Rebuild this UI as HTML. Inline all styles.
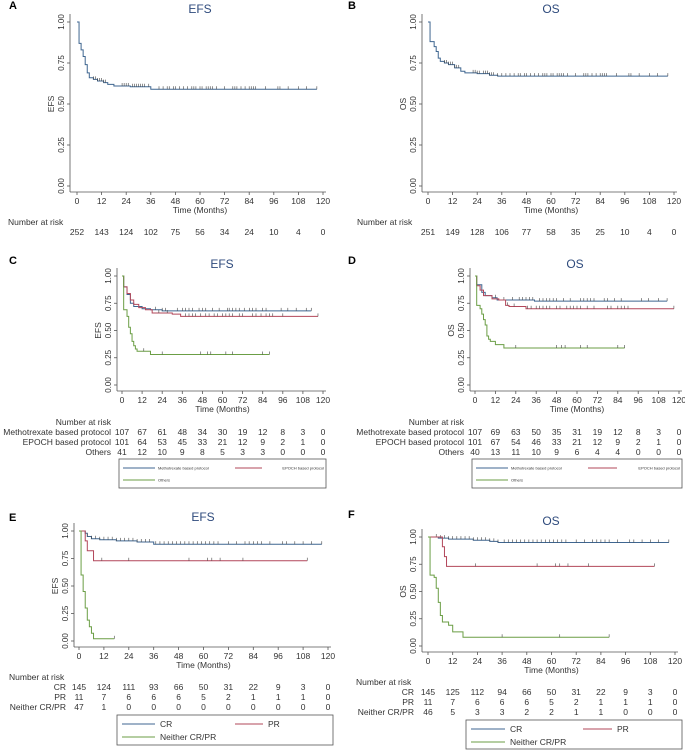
<!DOCTYPE html>
<html><head><meta charset="utf-8"><style>
body{margin:0;background:#fff}
svg{display:block;font-family:"Liberation Sans",Arial,sans-serif}
</style></head><body>
<svg id="fig" width="685" height="751" viewBox="0 0 685 751" xmlns="http://www.w3.org/2000/svg"></svg>
<script>
// ---- data ----
const ticks=[0,12,24,36,48,60,72,84,96,108,120];
const yTicks=[0,0.25,0.5,0.75,1];
const yTickLabels=["0.00","0.25","0.50","0.75","1.00"];
// Panel A EFS
const aT=[0,1,2,3,4,5,6,8,10,13,15,18,26,36];
const aS=[1,0.87,0.83,0.79,0.74,0.69,0.66,0.65,0.64,0.63,0.62,0.61,0.605,0.59];
const aEnd=117;
const aCens=[8,9,10,11,12,13,14,22,23,24,25,27,28,29,30,31,32,33,35,40,42,44,45,47,48,50,52,54,56,57,58,60,61,63,64,65,66,68,72,76,77,78,80,82,84,85,86,87,92,98,99,103,108,112,117];
const aRisk=[252,143,124,102,75,56,34,24,10,4,0];
// Panel B OS
const bT=[0,1,3,4,5,6,8,10,13,16,18,24,30,34];
const bS=[1,0.88,0.85,0.82,0.78,0.76,0.75,0.74,0.72,0.70,0.69,0.685,0.675,0.67];
const bEnd=117;
const bCens=[8,9,10,11,12,13,14,15,22,23,24,25,27,28,29,30,31,32,34,36,38,40,42,44,45,47,48,50,52,54,56,57,58,60,61,63,64,65,66,68,72,76,77,78,80,82,84,85,86,87,92,98,99,103,108,112,117];
const bRisk=[251,149,128,106,77,58,35,25,10,4,0];
// Panel C EFS by protocol
const cMT=[0,1,3,5,7,12,17,24];const cMS=[1,0.9,0.83,0.75,0.72,0.70,0.69,0.68];const cMEnd=113;
const cMCens=[20,24,26,33,36,38,40,42,46,48,50,54,58,63,64,66,68,70,73,76,78,80,84,86,95,99,104,110,113];
const cET=[0,1,3,5,7,10,14,18,30,35];const cES=[1,0.9,0.84,0.78,0.74,0.71,0.69,0.66,0.65,0.63];const cEEnd=117;
const cECens=[22,27,38,40,42,44,47,50,52,55,57,60,62,64,66,70,72,78,80,83,86,88,90,96,117];
const cOT=[0,1,3,4,5,6,7,8,9,17];const cOS=[1,0.69,0.63,0.53,0.47,0.40,0.36,0.33,0.31,0.28];const cOEnd=88;
const cOCens=[13,24,47,51,53,62,66,84,88];
const cRiskM=[107,67,61,48,34,30,19,12,8,3,0];
const cRiskE=[101,64,53,45,33,21,12,9,2,1,0];
const cRiskO=[41,12,10,9,8,5,3,3,0,0,0];
// Panel D OS by protocol
const dMT=[0,1,4,6,10,13,35];const dMS=[1,0.92,0.85,0.82,0.80,0.78,0.77];const dMEnd=113;
const dMCens=[12,17,22,26,28,30,32,34,38,40,42,44,46,48,52,56,62,64,66,68,70,76,78,82,86,98,102,108,113];
const dET=[0,1,3,5,10,14,18,20,30];const dES=[1,0.91,0.87,0.82,0.79,0.78,0.73,0.72,0.70];const dEEnd=117;
const dECens=[19,23,31,33,36,38,40,42,44,48,50,54,56,58,60,62,66,70,78,80,84,86,88,90,117];
const dOT=[0,1,3,4,5,6,7,8,9,12,17];const dOS=[1,0.73,0.70,0.65,0.60,0.55,0.45,0.42,0.40,0.37,0.34];const dOEnd=88;
const dOCens=[24,48,51,53,62,66,84,88];
const dRiskM=[107,69,63,50,35,31,19,12,8,3,0];
const dRiskE=[101,67,54,46,33,21,12,9,2,1,0];
const dRiskO=[40,13,11,10,9,6,4,4,0,0,0];
// Panel E EFS by response
const eCT=[0,3,4,6,10,18,28,36];const eCS=[1,0.98,0.95,0.93,0.92,0.91,0.90,0.88];const eCEnd=117;
const eCCens=[4,6,8,10,12,14,16,18,20,22,24,26,28,30,32,34,37,39,41,43,45,47,49,51,53,55,57,59,61,63,65,67,72,76,80,82,84,86,88,92,98,100,104,108,112,117];
const ePT=[0,3,4,7];const ePS=[1,0.91,0.82,0.73];const ePEnd=110;
const ePCens=[11,24,53,62,64,68,79,110];
const eNT=[0,1,2,3,4,5,6,7];const eNS=[1,0.6,0.45,0.30,0.19,0.13,0.07,0.02];const eNEnd=17;
const eNCens=[17];
const eRiskC=[145,124,111,93,66,50,31,22,9,3,0];
const eRiskP=[11,7,6,6,6,5,2,1,1,1,0];
const eRiskN=[47,1,0,0,0,0,0,0,0,0,0];
// Panel F OS by response
const fCT=[0,5,10,22,30,34];const fCS=[1,0.99,0.98,0.97,0.96,0.95];const fCEnd=117;
const fCCens=[4,6,8,10,12,14,16,18,20,22,24,26,28,30,32,34,37,39,41,43,45,47,49,51,53,55,57,59,61,63,65,67,72,76,80,82,84,86,88,92,98,100,104,108,112,117];
const fPT=[0,7,8,9];const fPS=[1,0.91,0.82,0.73];const fPEnd=110;
const fPCens=[23,53,62,64,68,78,110];
const fNT=[0,1,3,4,5,6,7,10,12,17];const fNS=[1,0.65,0.63,0.53,0.40,0.28,0.22,0.19,0.13,0.08];const fNEnd=88;
const fNCens=[36,64,88];
const fRiskC=[145,125,112,94,66,50,31,22,9,3,0];
const fRiskP=[11,7,6,6,6,5,2,1,1,1,0];
const fRiskN=[46,5,3,3,2,2,1,1,0,0,0];

const BLUE="#3f6690",RED="#b2475a",GREEN="#6b9e45",TITLE="#2e4a7c";
const svg=document.getElementById('fig');
const NS="http://www.w3.org/2000/svg";
function mk(tag,attrs,parent,text){const e=document.createElementNS(NS,tag);for(const k in attrs)e.setAttribute(k,attrs[k]);if(text!==undefined)e.textContent=text;(parent||svg).appendChild(e);return e;}

function panel(p){
  const g=mk('g',{});
  
  
  const X=t=>p.x0+(p.x1-p.x0)*t/120;
  const Y=s=>p.y0-(p.y0-p.y1)*s;
  const lt=mk('text',{x:p.lx,y:p.ly,'font-size':11,'font-weight':'bold',fill:'#000'},g,p.id);
  
  const tt=mk('text',{x:p.tx,y:p.ty,'font-size':12,fill:TITLE,'text-anchor':'middle'},g,p.title);
  
  // axes
  const ya=mk('line',{x1:p.ax,y1:p.y1-8,x2:p.ax,y2:p.axY,stroke:'#555','stroke-width':0.8},g);
  
  const xa=mk('line',{x1:p.ax,y1:p.axY,x2:X(120)+3,y2:p.axY,stroke:'#555','stroke-width':0.8},g);
  
  yTicks.forEach((v,i)=>{
    mk('line',{x1:p.ax-3,y1:Y(v),x2:p.ax,y2:Y(v),stroke:'#555','stroke-width':0.8},g);
    const t=mk('text',{transform:`translate(${p.ax-6},${Y(v)}) rotate(-90)`,'font-size':8,'text-anchor':'middle',fill:'#333'},g,yTickLabels[i]);
    
  });
  ticks.forEach(v=>{
    mk('line',{x1:X(v),y1:p.axY,x2:X(v),y2:p.axY+3,stroke:'#555','stroke-width':0.8},g);
    const t=mk('text',{x:X(v),y:p.axY+12,'font-size':8.5,'text-anchor':'middle',fill:'#333'},g,String(v));
    
  });
  const yl=mk('text',{transform:`translate(${p.ax-16},${(p.y0+p.y1)/2}) rotate(-90)`,'font-size':8.5,'text-anchor':'middle',fill:'#333'},g,p.title);
  
  const xl=mk('text',{x:X(60),y:p.axY+21,'font-size':8.5,'text-anchor':'middle',fill:'#333'},g,'Time (Months)');
  
  // series
  p.series.forEach(s=>{
    let d=`M${X(s.t[0])},${Y(s.s[0])}`;
    for(let i=1;i<s.t.length;i++)d+=`H${X(s.t[i])}V${Y(s.s[i])}`;
    d+=`H${X(s.end)}`;
    const path=mk('path',{d:d,fill:'none',stroke:s.color,'stroke-width':1},g);
    
    s.cens.forEach(c=>{
      let sv=s.s[0];for(let i=0;i<s.t.length;i++)if(s.t[i]<=c)sv=s.s[i];
      const m=mk('line',{x1:X(c),y1:Y(sv)-3,x2:X(c),y2:Y(sv),stroke:'#444','stroke-width':0.6},g);
      
    });
  });
  // risk table
  const nr=mk('text',{x:p.nrx,y:p.nry,'font-size':8.5,'text-anchor':p.nrAnchor||'end',fill:'#333'},g,'Number at risk');
  
  p.risk.forEach((r,ri)=>{
    const yy=p.nry+10*(ri+1);
    if(r.label){const l=mk('text',{x:p.rlx,y:yy,'font-size':8.5,'text-anchor':'end',fill:'#333'},g,r.label);
      }
    r.vals.forEach((v,i)=>{
      const t=mk('text',{x:X(ticks[i]),y:yy,'font-size':8.5,'text-anchor':'middle',fill:'#333'},g,String(v));
      
    });
  });
  // legend
  if(p.legend){
    const L=p.legend;
    const box=mk('rect',{x:L.x,y:L.y,width:L.w,height:L.h,fill:'#fff',stroke:'#555','stroke-width':0.8},g);
    
    L.items.forEach(it=>{
      mk('line',{x1:it.x1,y1:it.y,x2:it.x2,y2:it.y,stroke:it.color,'stroke-width':1},g);
      const t=mk('text',{x:it.tx,y:it.y+L.fs*0.35,'font-size':L.fs,'text-anchor':it.anchor||'start',fill:'#333'},g,it.label);
      
    });
  }
}

panel({id:'A',title:'EFS',lx:9,ly:9,tx:200,ty:13,ax:70,axY:192,x0:77,x1:323,y1:22,y0:186,
  series:[{name:'efs',t:aT,s:aS,end:aEnd,cens:aCens,color:BLUE}],
  nrx:8,nry:225,nrAnchor:'start',risk:[{vals:aRisk}]});
panel({id:'B',title:'OS',lx:348,ly:9,tx:551,ty:13,ax:422,axY:192,x0:428,x1:674,y1:22,y0:186,
  series:[{name:'os',t:bT,s:bS,end:bEnd,cens:bCens,color:BLUE}],
  nrx:357,nry:225,nrAnchor:'start',risk:[{vals:bRisk}]});
panel({id:'C',title:'EFS',lx:9,ly:264,tx:222,ty:268,ax:117,axY:391,x0:122,x1:323,y1:276,y0:385,
  series:[{name:'methotrexate',t:cMT,s:cMS,end:cMEnd,cens:cMCens,color:BLUE},
          {name:'epoch',t:cET,s:cES,end:cEEnd,cens:cECens,color:RED},
          {name:'others',t:cOT,s:cOS,end:cOEnd,cens:cOCens,color:GREEN}],
  nrx:111,nry:425,rlx:111,risk:[{label:'Methotrexate based protocol',vals:cRiskM},{label:'EPOCH based protocol',vals:cRiskE},{label:'Others',vals:cRiskO}],
  legend:{x:119,y:459,w:207,h:29,fs:4,items:[
    {x1:123,x2:155,y:468,color:BLUE,tx:158,label:'Methotrexate based protocol'},
    {x1:235,x2:262,y:468,color:RED,tx:324,anchor:'end',label:'EPOCH based protocol'},
    {x1:123,x2:155,y:480,color:GREEN,tx:158,label:'Others'}]}});
panel({id:'D',title:'OS',lx:348,ly:264,tx:575,ty:268,ax:470,axY:391,x0:475,x1:679,y1:276,y0:385,
  series:[{name:'methotrexate',t:dMT,s:dMS,end:dMEnd,cens:dMCens,color:BLUE},
          {name:'epoch',t:dET,s:dES,end:dEEnd,cens:dECens,color:RED},
          {name:'others',t:dOT,s:dOS,end:dOEnd,cens:dOCens,color:GREEN}],
  nrx:464,nry:425,rlx:464,risk:[{label:'Methotrexate based protocol',vals:dRiskM},{label:'EPOCH based protocol',vals:dRiskE},{label:'Others',vals:dRiskO}],
  legend:{x:472,y:459,w:210,h:29,fs:4,items:[
    {x1:476,x2:508,y:468,color:BLUE,tx:511,label:'Methotrexate based protocol'},
    {x1:588,x2:617,y:468,color:RED,tx:680,anchor:'end',label:'EPOCH based protocol'},
    {x1:476,x2:508,y:480,color:GREEN,tx:511,label:'Others'}]}});
panel({id:'E',title:'EFS',lx:9,ly:521,tx:203,ty:521,ax:74,axY:647,x0:79,x1:328,y1:531,y0:641,
  series:[{name:'cr',t:eCT,s:eCS,end:eCEnd,cens:eCCens,color:BLUE},
          {name:'pr',t:ePT,s:ePS,end:ePEnd,cens:ePCens,color:RED},
          {name:'neither',t:eNT,s:eNS,end:eNEnd,cens:eNCens,color:GREEN}],
  nrx:9,nry:680,nrAnchor:'start',rlx:66,risk:[{label:'CR',vals:eRiskC},{label:'PR',vals:eRiskP},{label:'Neither CR/PR',vals:eRiskN}],
  legend:{x:117,y:715,w:216,h:30,fs:8.5,items:[
    {x1:122,x2:155,y:724,color:BLUE,tx:160,label:'CR'},
    {x1:235,x2:263,y:724,color:RED,tx:268,label:'PR'},
    {x1:122,x2:155,y:737,color:GREEN,tx:160,label:'Neither CR/PR'}]}});
panel({id:'F',title:'OS',lx:348,ly:518,tx:551,ty:525,ax:422,axY:652,x0:428,x1:675,y1:537,y0:646,
  series:[{name:'cr',t:fCT,s:fCS,end:fCEnd,cens:fCCens,color:BLUE},
          {name:'pr',t:fPT,s:fPS,end:fPEnd,cens:fPCens,color:RED},
          {name:'neither',t:fNT,s:fNS,end:fNEnd,cens:fNCens,color:GREEN}],
  nrx:356,nry:685,nrAnchor:'start',rlx:414,risk:[{label:'CR',vals:fRiskC},{label:'PR',vals:fRiskP},{label:'Neither CR/PR',vals:fRiskN}],
  legend:{x:466,y:720,w:216,h:29,fs:8.5,items:[
    {x1:471,x2:505,y:729,color:BLUE,tx:510,label:'CR'},
    {x1:583,x2:612,y:729,color:RED,tx:617,label:'PR'},
    {x1:471,x2:505,y:742,color:GREEN,tx:510,label:'Neither CR/PR'}]}});
</script>
</body></html>
